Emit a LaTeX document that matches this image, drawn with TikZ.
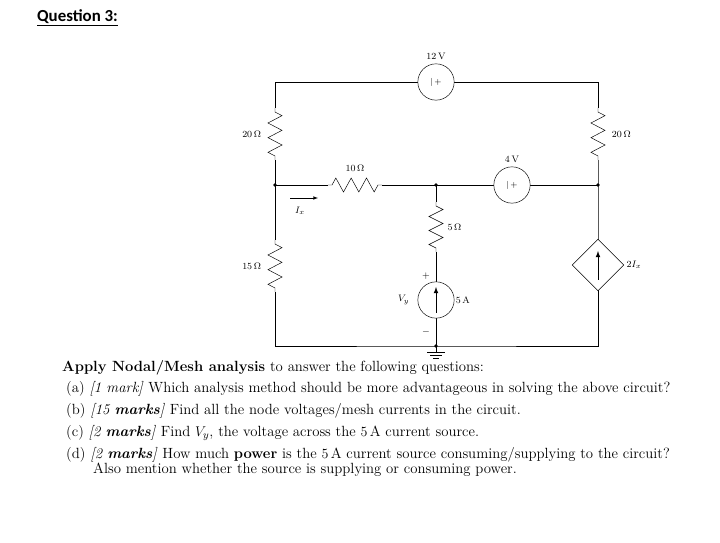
\documentclass[tikz,border=0pt]{standalone}
\usepackage{fontspec}
\newfontfamily\titlefont{Carlito}
\usetikzlibrary{positioning}
\tikzset{
  wire/.style={draw, line width=0.5pt},
  src/.style={circle, draw, minimum size=31pt, inner sep=0pt, fill=white},
  dep/.style={diamond, draw, minimum size=44pt, inner sep=0pt, fill=white},
  dot/.style={circle, fill, inner sep=1.2pt},
  lbl/.style={font=\footnotesize, inner sep=1pt},
  txt/.style={anchor=west, font=\fontsize{12.6}{14}\selectfont, inner sep=0pt}
}
\usetikzlibrary{shapes.geometric}
% zigzag resistor between two points
\newcommand{\resv}[3]{\draw (#1,#2) -- ++(0,4) -- ++(7,{(#3-8)/12}) \foreach \i in {1,2}{ -- ++(-14,{(#3-8)/6}) -- ++(14,{(#3-8)/6})} -- ++(-14,{(#3-8)/6}) -- ++(7,{(#3-8)/12}) -- ++(0,4);}
\newcommand{\resh}[3]{\draw (#1,#2) -- ++(4,0) -- ++({(#3-8)/12},-7) \foreach \i in {1,2}{ -- ++({(#3-8)/6},14) -- ++({(#3-8)/6},-14)} -- ++({(#3-8)/6},14) -- ++({(#3-8)/12},-7) -- ++(4,0);}
\begin{document}
\begin{tikzpicture}[x=0.03cm, y=-0.03cm]
\useasboundingbox (0,0) rectangle (720,543);

% wires
\coordinate (tl) at (275,82);
\coordinate (tr) at (598,82);
\coordinate (ml) at (275,185);
\coordinate (mc) at (436,185);
\coordinate (mr) at (598,185);
\coordinate (bl) at (275,346);
\coordinate (bc) at (436,346);
\coordinate (br) at (598,346);
\draw (ml) -- (tl) -- (tr) -- (mr) -- (br) -- (bc) -- (bl) -- (ml) -- (mr);
\draw (mc) -- (bc);

% resistors
\fill[white] (266,108) rectangle (284,160);
\resv{275}{108}{52}
\fill[white] (266,240) rectangle (284,292);
\resv{275}{240}{52}
\fill[white] (589,108) rectangle (607,160);
\resv{598}{108}{52}
\fill[white] (427,202) rectangle (445,252);
\resv{436}{202}{50}
\fill[white] (328,176) rectangle (382,194);
\resh{328}{185}{54}

\node[lbl, left=3pt of {(266,134)}] (r1) {$20\,\Omega$};
\node[lbl, left=3pt of {(266,266)}] (r2) {$15\,\Omega$};
\node[lbl, right=3pt of {(607,134)}] (r3) {$20\,\Omega$};
\node[lbl, right=1pt of {(445,227)}] (r4) {$5\,\Omega$};
\node[lbl, above=3pt of {(355,176)}] (r5) {$10\,\Omega$};

% sources
\node[src] (v12) at (436,82) {\scriptsize $\mid$\,$+$};
\node[lbl, above=2pt of v12] {$12\,$V};
\node[src] (v4) at (512,185) {\scriptsize $\mid$\,$+$};
\node[lbl, above=2pt of v4] {$4\,$V};
\node[src] (i5) at (436,300) {};
\draw[-latex, thick] (436,313) -- (436,287);
\node[lbl, right=0pt of i5] {$5\,$A};
\node[lbl, left=6pt of i5] {$V_y$};
\node[lbl] at (426,276) {$+$};
\node[lbl] at (426,332) {$-$};
\node[dep] (d2) at (598,265) {};
\draw[-latex, thick] (598,280) -- (598,251);
\node[lbl, right=1pt of d2] {$2I_x$};

% dots
\foreach \p in {ml,mc,mr,bc} \node[dot] at (\p) {};

% Ix arrow
\draw[-latex] (290,198) -- (318,198);
\node[lbl] (ix) at (300,211) {$I_x$};

% ground
\draw (436,346) -- (436,352);
\draw (427,352) -- (445,352) (430,355) -- (442,355) (433,358) -- (439,358);

% text
\node[anchor=west, font=\titlefont\bfseries\Large] (q) at (33,18) {\underline{Question 3:}};
\node[txt] (t0) at (62,368) {\textbf{Apply Nodal/Mesh analysis} to answer the following questions:};
\node[txt] (ta) at (66,389) {(a) \textit{[1 mark]} Which analysis method should be more advantageous in solving the above circuit?};
\node[txt] (tb) at (66,411) {(b) \textit{[15 \textbf{marks}]} Find all the node voltages/mesh currents in the circuit.};
\node[txt] (tc) at (66,433) {(c) \textit{[2 \textbf{marks}]} Find $V_y$, the voltage across the $5\,$A current source.};
\node[txt] (td) at (66,455) {(d) \textit{[2 \textbf{marks}]} How much \textbf{power} is the $5\,$A current source consuming/supplying to the circuit?};
\node[txt] (te) at (93,470) {Also mention whether the source is supplying or consuming power.};
\end{tikzpicture}
\end{document}
